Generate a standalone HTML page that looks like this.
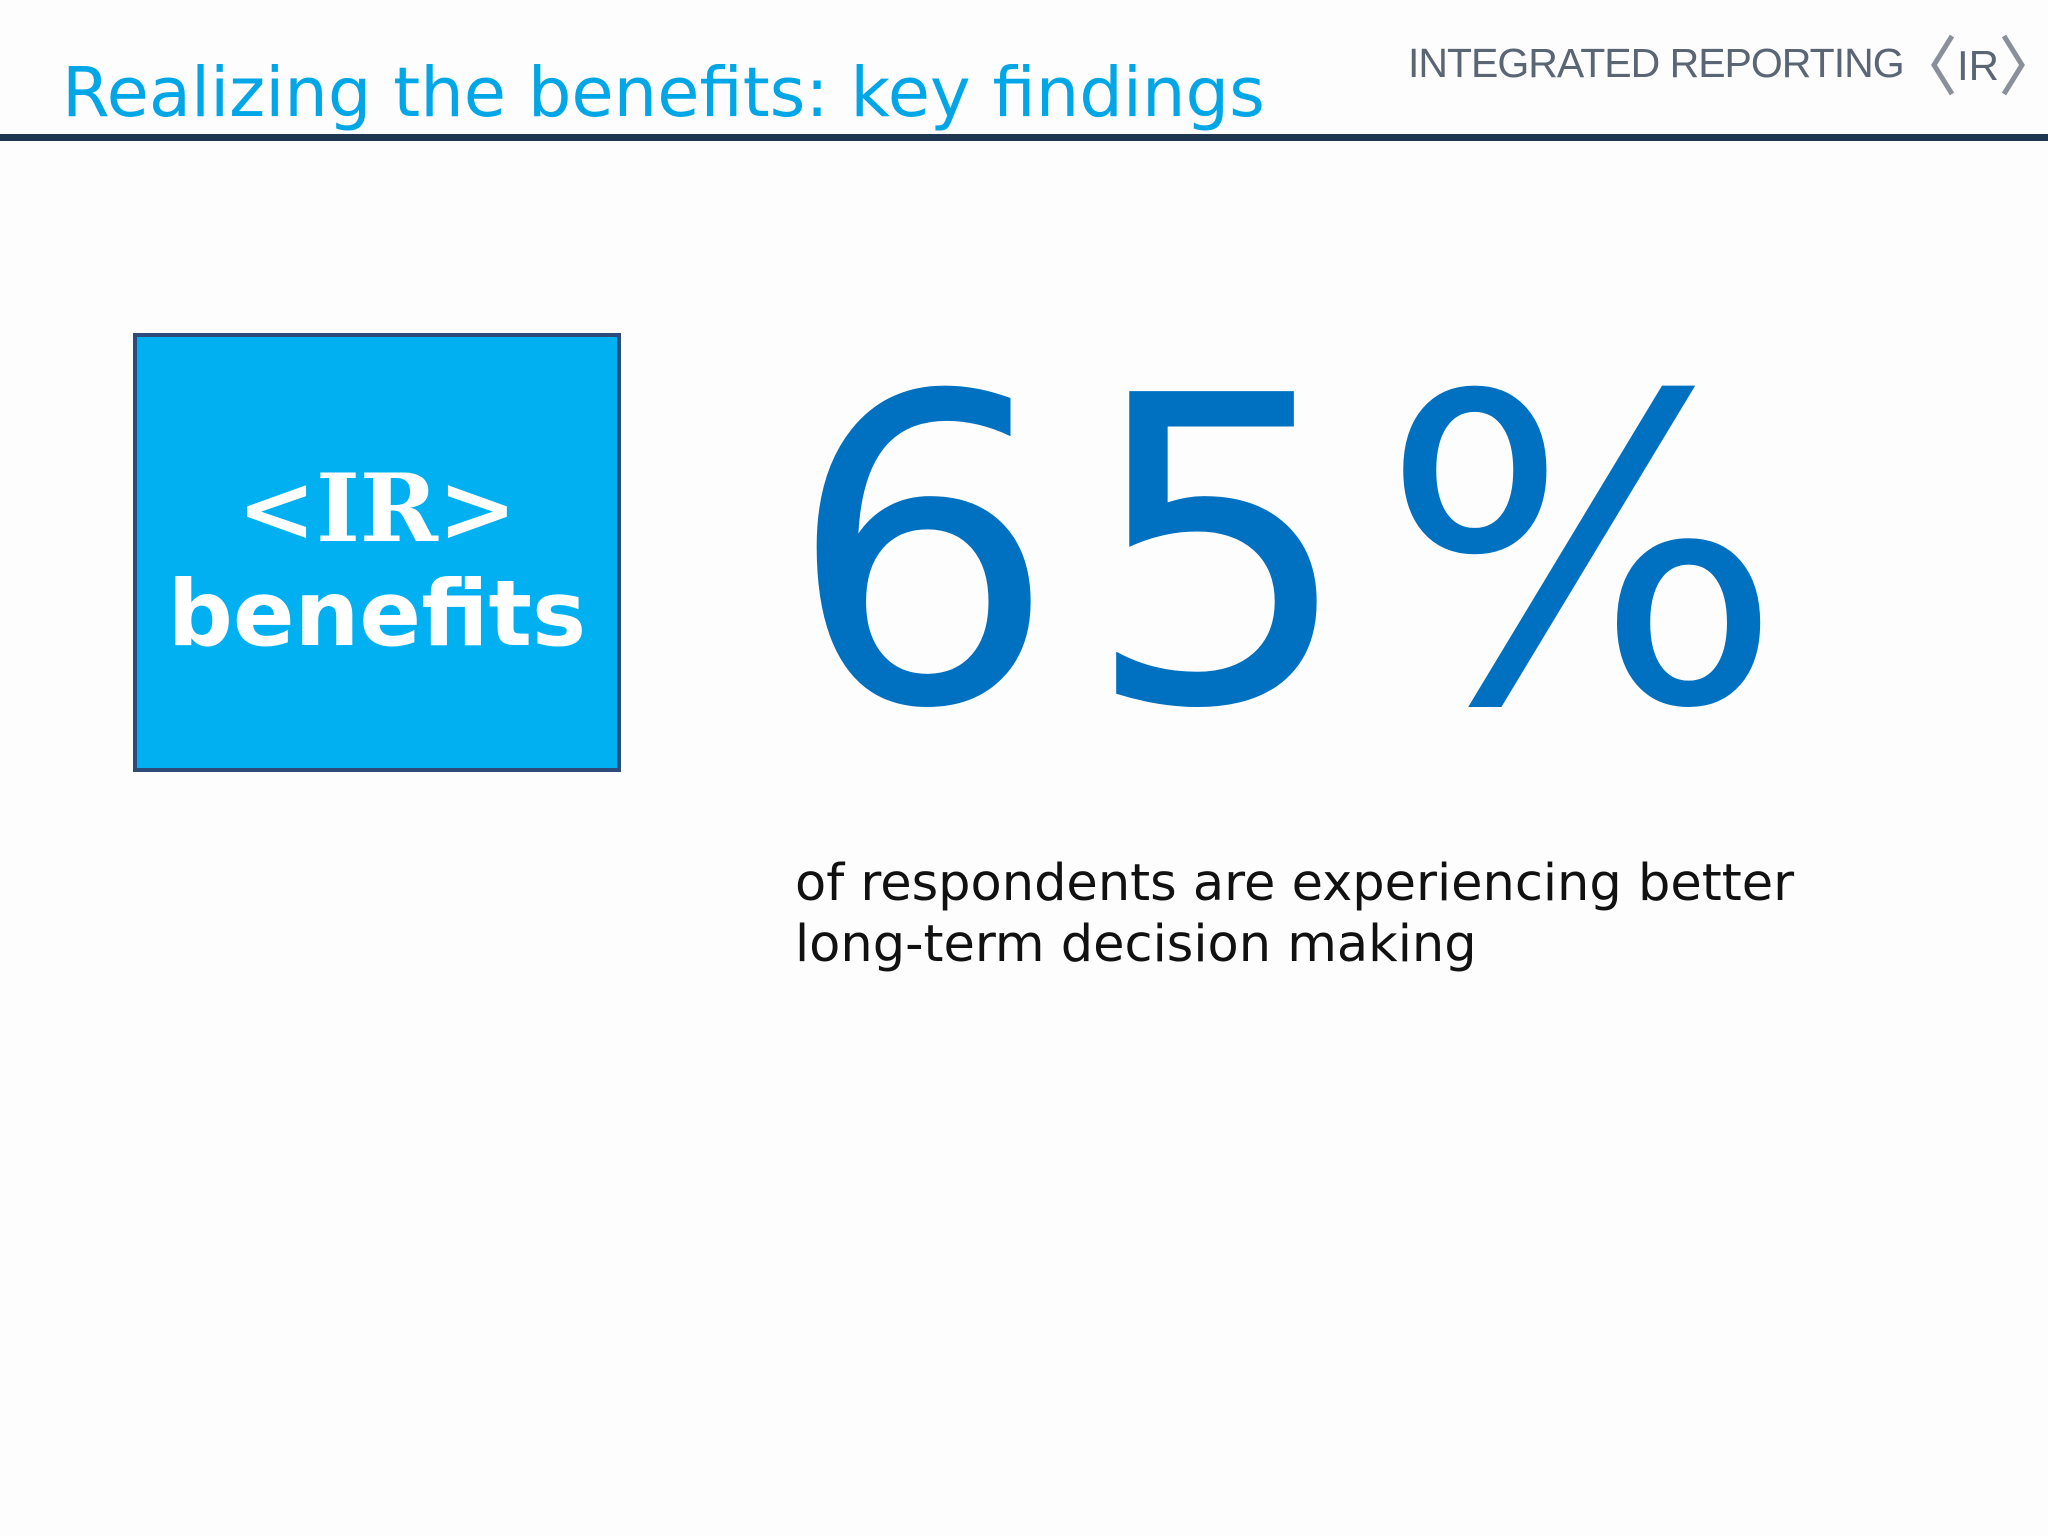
<!DOCTYPE html>
<html>
<head>
<meta charset="utf-8">
<style>
  html,body{margin:0;padding:0;}
  body{width:2048px;height:1536px;background:#fdfdfd;position:relative;overflow:hidden;font-family:"DejaVu Sans","Liberation Sans",sans-serif;}
  .abs{position:absolute;white-space:nowrap;}
  #title{left:62px;top:53px;font-size:68.7px;color:#00a6e6;line-height:80px;}
  #rule{left:0;top:134px;width:2048px;height:7px;background:#1f3650;}
  #logo{left:1408px;top:38px;font-size:41px;color:#5b6675;letter-spacing:-1px;line-height:50px;font-family:"Liberation Sans",sans-serif;}
  #logomark{left:1928px;top:30px;}
  #box{left:133px;top:333px;width:480px;height:431px;background:#00b0f0;border:4px solid #2e4a78;}
  .boxtxt{position:absolute;left:0;width:100%;text-align:center;color:#fff;font-weight:bold;font-size:100px;line-height:100px;}
  #big{left:787px;top:339px;font-size:425px;line-height:432px;color:#0070c0;letter-spacing:26px;}
  #sub{left:795px;top:853px;font-size:51px;line-height:61px;color:#111;}
</style>
</head>
<body>
<div id="title" class="abs">Realizing the benefits: key findings</div>
<div id="rule" class="abs"></div>
<div id="logo" class="abs">INTEGRATED REPORTING</div>
<svg id="logomark" class="abs" width="100" height="70" viewBox="0 0 100 70">
  <polyline points="24,6 6,35 24,64" fill="none" stroke="#8a9099" stroke-width="5"/>
  <polyline points="76,6 94,35 76,64" fill="none" stroke="#8a9099" stroke-width="5"/>
  <text x="50" y="50" text-anchor="middle" font-family="Liberation Sans, sans-serif" font-size="42" fill="#5b6675">IR</text>
</svg>
<div id="box" class="abs">
  <div class="boxtxt" style="top:122px;font-size:94px;font-family:'DejaVu Serif','Liberation Serif',serif">&lt;IR&gt;</div>
  <div class="boxtxt" style="top:228px;font-size:91px">benefits</div>
</div>
<div id="big" class="abs">65%</div>
<div id="sub" class="abs">of respondents are experiencing better<br>long-term decision making</div>
</body>
</html>
